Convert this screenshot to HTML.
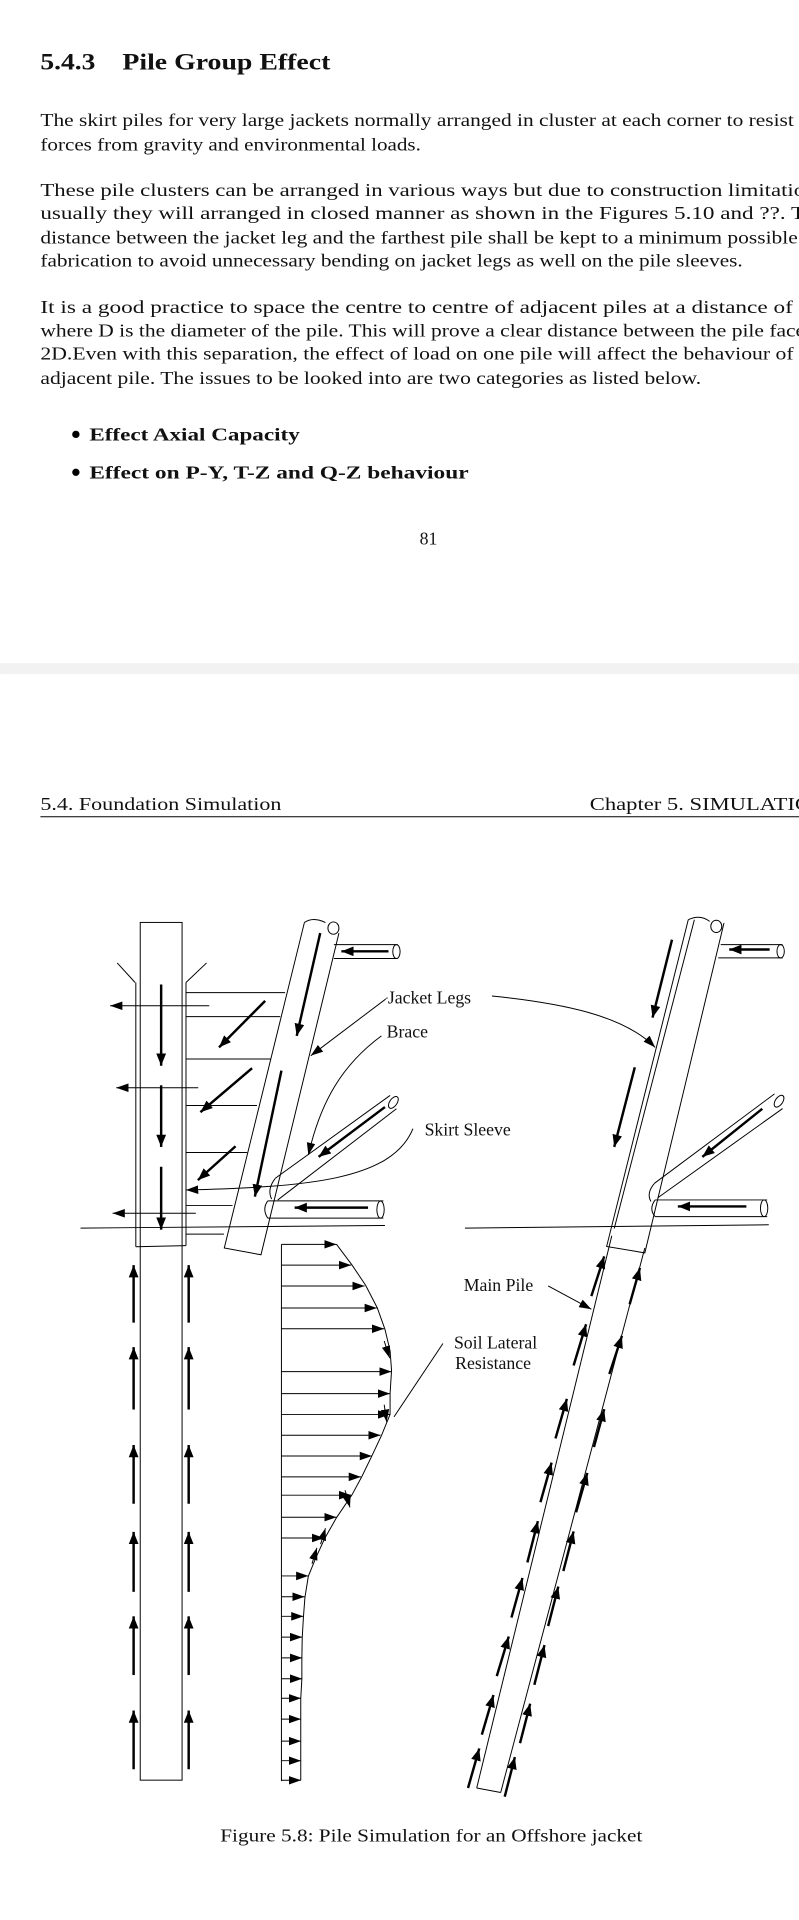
<!DOCTYPE html>
<html><head><meta charset="utf-8"><style>
html,body{margin:0;padding:0;background:#fff;}
svg{display:block;}
text{font-family:"Liberation Serif",serif;fill:#111;}
</style></head><body>
<svg width="799" height="1920" viewBox="0 0 653 1569.2" xmlns="http://www.w3.org/2000/svg">
<defs>
<marker id="th" markerUnits="userSpaceOnUse" markerWidth="12" markerHeight="10" refX="10" refY="4" orient="auto"><path d="M0,0 L10,4 L0,8 z" fill="#000"/></marker>
<marker id="tn" markerUnits="userSpaceOnUse" markerWidth="12" markerHeight="10" refX="10" refY="3.5" orient="auto"><path d="M0,0 L10,3.5 L0,7 z" fill="#000"/></marker>
</defs>
<rect width="653" height="1569.2" fill="#fff"/>
<!-- page 1 -->
<text x="33" y="57" font-size="19" font-weight="bold" textLength="45" lengthAdjust="spacingAndGlyphs">5.4.3</text>
<text x="100" y="57" font-size="19" font-weight="bold" textLength="170" lengthAdjust="spacingAndGlyphs">Pile Group Effect</text>
<g font-size="14.5">
<text x="33" y="103" textLength="625" lengthAdjust="spacingAndGlyphs">The skirt piles for very large jackets normally arranged in cluster at each corner to resist t</text>
<text x="33" y="123" textLength="311" lengthAdjust="spacingAndGlyphs">forces from gravity and environmental loads.</text>
<text x="33" y="160" textLength="625" lengthAdjust="spacingAndGlyphs">These pile clusters can be arranged in various ways but due to construction limitatio</text>
<text x="33" y="179" textLength="625" lengthAdjust="spacingAndGlyphs">usually they will arranged in closed manner as shown in the Figures 5.10 and ??.  T</text>
<text x="33" y="199" textLength="619" lengthAdjust="spacingAndGlyphs">distance between the jacket leg and the farthest pile shall be kept to a minimum possible</text>
<text x="33" y="218" textLength="574" lengthAdjust="spacingAndGlyphs">fabrication to avoid unnecessary bending on jacket legs as well on the pile sleeves.</text>
<text x="33" y="256" textLength="615" lengthAdjust="spacingAndGlyphs">It is a good practice to space the centre to centre of adjacent piles at a distance of</text>
<text x="33" y="275" textLength="625" lengthAdjust="spacingAndGlyphs">where D is the diameter of the pile. This will prove a clear distance between the pile face</text>
<text x="33" y="294" textLength="625" lengthAdjust="spacingAndGlyphs">2D.Even with this separation, the effect of load on one pile will affect the behaviour of t</text>
<text x="33" y="314" textLength="540" lengthAdjust="spacingAndGlyphs">adjacent pile. The issues to be looked into are two categories as listed below.</text>
</g>
<circle cx="62" cy="355" r="3"/>
<circle cx="62" cy="386" r="3"/>
<text x="73" y="360" font-size="14.5" font-weight="bold" textLength="172" lengthAdjust="spacingAndGlyphs">Effect Axial Capacity</text>
<text x="73" y="391" font-size="14.5" font-weight="bold" textLength="310" lengthAdjust="spacingAndGlyphs">Effect on P-Y, T-Z and Q-Z behaviour</text>
<text x="343" y="445" font-size="14.5">81</text>
<rect x="0" y="542" width="653" height="9" fill="#f2f2f2"/>
<!-- page 2 header -->
<text x="33" y="662" font-size="14.5" textLength="197" lengthAdjust="spacingAndGlyphs">5.4.  Foundation Simulation</text>
<text x="482" y="662" font-size="14.5" textLength="180" lengthAdjust="spacingAndGlyphs">Chapter 5.  SIMULATIC</text>
<line x1="33" y1="667.5" x2="653" y2="667.5" stroke="#000" stroke-width="0.8"/>

<g fill="none" stroke="#000" stroke-width="0.8">
<rect x="114.6" y="753.9" width="34.2" height="701"/>
<line x1="111" y1="803" x2="111" y2="1019"/><line x1="152" y1="803" x2="152" y2="1018"/>
<line x1="111" y1="1019" x2="152" y2="1018"/>
<line x1="95.8" y1="787" x2="110.4" y2="803"/><line x1="168.8" y1="787" x2="152" y2="803"/>
<line x1="152" y1="811.3" x2="233" y2="811.3"/><line x1="152" y1="830.9" x2="229" y2="830.9"/>
<line x1="152" y1="865.5" x2="221" y2="865.5"/><line x1="152" y1="903.5" x2="210" y2="903.5"/>
<line x1="152" y1="941.9" x2="202" y2="941.9"/><line x1="152" y1="985.3" x2="190" y2="985.3"/>
<line x1="152" y1="1008.6" x2="183" y2="1008.6"/>
<line x1="171" y1="822" x2="90" y2="822" marker-end="url(#tn)"/>
<line x1="162" y1="889" x2="95" y2="889" marker-end="url(#tn)"/>
<line x1="160" y1="991.6" x2="92" y2="991.6" marker-end="url(#tn)"/>
<polyline points="248.8,753.9 183.3,1020 213.3,1025.5 277,762.6"/>
<path d="M248.8,753.9 Q256,749 266,754"/>
<ellipse cx="272.5" cy="758.5" rx="4.5" ry="5"/>
<path d="M272.9,772 L325,772 M272.9,783.4 L325,783.4"/><ellipse cx="324" cy="777.7" rx="3" ry="5.7"/>
<path d="M225,963 L318.8,895.3 M227,980.7 L324,906.2"/><ellipse cx="321.5" cy="901" rx="3" ry="5.5" transform="rotate(35 321.5 901)"/>
<path d="M225,963 Q218,972 222,980"/>
<path d="M218.8,981.5 L313.3,981.5 M218.8,995.6 L313.3,995.6 M218.8,981.5 Q214,988 218.8,995.6"/><ellipse cx="311" cy="988.6" rx="3" ry="7"/>
<line x1="316.7" y1="815.4" x2="254" y2="862.8" marker-end="url(#tn)"/>
<path d="M311.7,846.6 C280,870 262,900 252,944" marker-end="url(#tn)"/>
<path d="M337.5,922.5 C320,965 250,970 152,972.6" marker-end="url(#tn)"/>
<path d="M402,814 C460,820 510,830 535.4,856" marker-end="url(#tn)"/>
<line x1="448" y1="1051" x2="483.3" y2="1070" marker-end="url(#tn)"/>
<line x1="362" y1="1098" x2="322" y2="1158"/>
<line x1="65.8" y1="1003.7" x2="314.6" y2="1001.6"/>
<line x1="380" y1="1003.7" x2="628.3" y2="1001"/>
<line x1="230" y1="1017" x2="230" y2="1455.7"/>
<path d="M275,1017 L287.5,1033.6 L298.8,1050.4 L308.3,1068.8 L314.6,1086.4 L318.8,1104 L320,1120 L318.8,1139 L318.8,1156 L311.7,1173.4 L304,1189.7 L295.8,1206.6 L287.5,1222 L275,1240.4 L265.4,1257.3 L258.3,1272.8 L252,1288.2 L249.2,1305.7 L248,1321.4 L247,1338.3 L246.7,1355.2 L246.7,1372.1 L245.8,1388.2 L245.8,1405 L245.8,1423.3 L245.8,1439.4 L245.8,1455"/>
<polyline points="562.5,751.7 495.8,1018.7 527,1024 591.7,754.4"/>
<line x1="567.5" y1="751.7" x2="502" y2="1004"/>
<path d="M562.5,751.7 Q572,747 580,753"/><ellipse cx="585.4" cy="757.1" rx="4.5" ry="5"/>
<path d="M589,772 L639.6,772 M587,782.9 L639.6,782.9"/><ellipse cx="638" cy="777.5" rx="3" ry="5.5"/>
<path d="M535,967 L633,894 M537.5,979 L639.6,906"/><ellipse cx="636.7" cy="900" rx="3" ry="5.5" transform="rotate(35 636.7 900)"/>
<path d="M535,967 Q528,975 532,982"/>
<path d="M535.4,980.7 L627,980.7 M535.4,994.3 L627,994.3 M535.4,980.7 Q530,988 535.4,994.3"/><ellipse cx="624.5" cy="987.5" rx="3" ry="6.8"/>
<line x1="500" y1="1010" x2="389.6" y2="1461.3"/><line x1="527" y1="1020" x2="409.2" y2="1465"/>
<line x1="389.6" y1="1461.3" x2="409.2" y2="1465"/>
</g>
<g stroke="#000" stroke-width="0.8" marker-end="url(#tn)">
<line x1="230" y1="1017" x2="275" y2="1017"/><line x1="230" y1="1034" x2="287" y2="1034"/>
<line x1="230" y1="1051" x2="298" y2="1051"/><line x1="230" y1="1069" x2="308" y2="1069"/>
<line x1="230" y1="1086" x2="314" y2="1086"/><line x1="314" y1="1096" x2="318.5" y2="1110"/>
<line x1="230" y1="1121" x2="320" y2="1121"/><line x1="230" y1="1139" x2="318.8" y2="1139"/>
<line x1="230" y1="1156" x2="318.8" y2="1156"/><line x1="314" y1="1148" x2="316" y2="1162"/>
<line x1="230" y1="1173" x2="311" y2="1173"/><line x1="230" y1="1190" x2="304" y2="1190"/>
<line x1="230" y1="1207" x2="295" y2="1207"/><line x1="230" y1="1222" x2="287" y2="1222"/>
<line x1="282" y1="1218" x2="286" y2="1232"/>
<line x1="230" y1="1240" x2="275" y2="1240"/><line x1="230" y1="1257" x2="265" y2="1257"/>
<line x1="262" y1="1262" x2="266" y2="1249"/><line x1="255" y1="1278" x2="259" y2="1265"/>
<line x1="230" y1="1288" x2="252" y2="1288"/><line x1="230" y1="1305" x2="249" y2="1305"/>
<line x1="230" y1="1321" x2="248" y2="1321"/><line x1="230" y1="1338" x2="247" y2="1338"/>
<line x1="230" y1="1355" x2="247" y2="1355"/><line x1="230" y1="1372" x2="247" y2="1372"/>
<line x1="230" y1="1388" x2="246" y2="1388"/><line x1="230" y1="1405" x2="246" y2="1405"/>
<line x1="230" y1="1423" x2="246" y2="1423"/><line x1="230" y1="1439" x2="246" y2="1439"/>
<line x1="230" y1="1455" x2="246" y2="1455"/>
</g>
<g stroke="#000" stroke-width="2" marker-end="url(#th)">
<line x1="131.7" y1="804.6" x2="131.7" y2="871"/><line x1="131.7" y1="887" x2="131.7" y2="937.4"/><line x1="131.7" y1="953.6" x2="131.7" y2="1005"/>
<line x1="261.7" y1="762.6" x2="242.5" y2="846.6"/><line x1="230" y1="875" x2="208.3" y2="978"/>
<line x1="216.7" y1="818" x2="179" y2="856"/><line x1="206" y1="873" x2="163.8" y2="909"/><line x1="192.5" y1="936.8" x2="161.7" y2="964.5"/>
<line x1="317.5" y1="777.5" x2="279" y2="777.5"/>
<line x1="314.6" y1="904.8" x2="260.4" y2="945.5"/>
<line x1="300.8" y1="987" x2="240.8" y2="987"/>
<line x1="549.2" y1="768" x2="533.3" y2="831.7"/><line x1="518.8" y1="872.3" x2="502" y2="937.4"/>
<line x1="629" y1="776" x2="596" y2="776"/>
<line x1="623" y1="906.2" x2="574" y2="945.5"/>
<line x1="610" y1="986" x2="554" y2="986"/>
<line x1="109.2" y1="1081" x2="109.2" y2="1034"/><line x1="154.2" y1="1081" x2="154.2" y2="1034"/>
<line x1="109.2" y1="1152" x2="109.2" y2="1101"/><line x1="154.2" y1="1152" x2="154.2" y2="1101"/>
<line x1="109.2" y1="1229" x2="109.2" y2="1181"/><line x1="154.2" y1="1229" x2="154.2" y2="1181"/>
<line x1="109.2" y1="1301" x2="109.2" y2="1252"/><line x1="154.2" y1="1301" x2="154.2" y2="1252"/>
<line x1="109.2" y1="1369" x2="109.2" y2="1321"/><line x1="154.2" y1="1369" x2="154.2" y2="1321"/>
<line x1="109.2" y1="1446" x2="109.2" y2="1398"/><line x1="154.2" y1="1446" x2="154.2" y2="1398"/>
<line x1="483.3" y1="1059.3" x2="493.8" y2="1026.8"/><line x1="468.8" y1="1116" x2="479" y2="1082.3"/>
<line x1="454" y1="1175.6" x2="463.3" y2="1143.3"/><line x1="441.7" y1="1227.7" x2="450.8" y2="1195.4"/>
<line x1="431" y1="1277" x2="439.6" y2="1243.2"/><line x1="418" y1="1322" x2="427" y2="1289.6"/>
<line x1="406" y1="1369.9" x2="415.8" y2="1337.5"/><line x1="393.8" y1="1417.7" x2="403.3" y2="1385.3"/>
<line x1="382.5" y1="1461.3" x2="391.7" y2="1429"/>
<line x1="514.6" y1="1066" x2="523" y2="1036.3"/><line x1="498" y1="1123" x2="508.3" y2="1091.8"/>
<line x1="485.4" y1="1182.7" x2="493.8" y2="1151.7"/><line x1="470.8" y1="1236" x2="480" y2="1203.8"/>
<line x1="460.4" y1="1284" x2="468.8" y2="1251.6"/><line x1="448" y1="1329" x2="456.3" y2="1296.7"/>
<line x1="436.7" y1="1377" x2="445" y2="1344.5"/><line x1="425" y1="1424.7" x2="433.3" y2="1392.4"/>
<line x1="412.5" y1="1468.4" x2="420.8" y2="1436"/>
</g>
<g font-size="14.5">
<text x="317" y="820" fill="#fff" stroke="#fff" stroke-width="4">Jacket Legs</text>
<text x="317" y="820">Jacket Legs</text>
<text x="316" y="848">Brace</text>
<text x="347" y="928">Skirt Sleeve</text>
<text x="379" y="1055">Main Pile</text>
<text x="371" y="1102">Soil Lateral</text>
<text x="372" y="1119">Resistance</text>
<text x="180" y="1505" textLength="345" lengthAdjust="spacingAndGlyphs">Figure 5.8: Pile Simulation for an Offshore jacket</text>
</g>
</svg>
</body></html>
